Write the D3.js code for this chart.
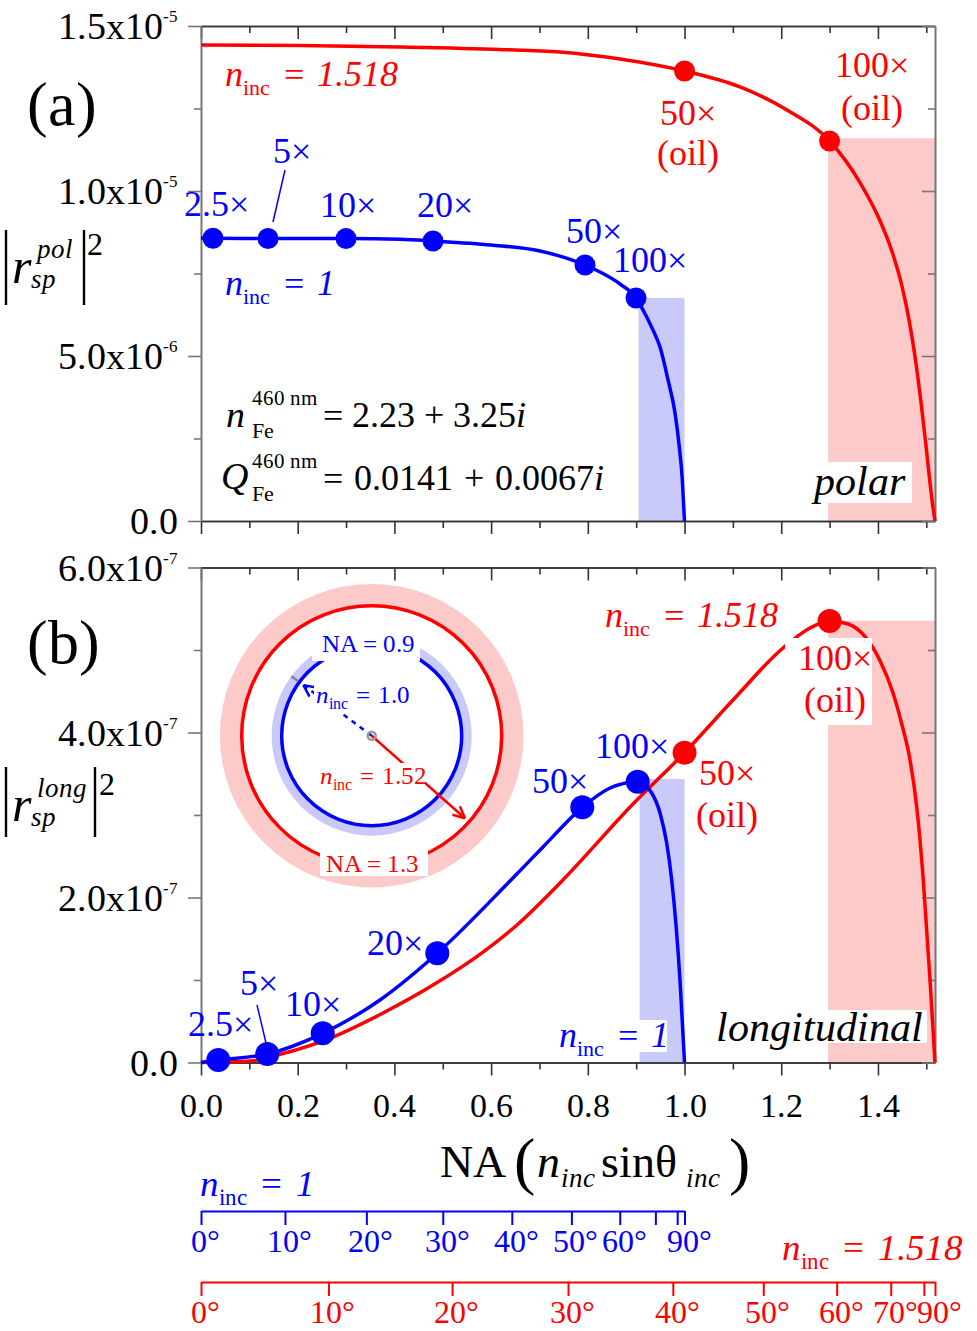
<!DOCTYPE html>
<html><head><meta charset="utf-8">
<script src="https://cdn.jsdelivr.net/npm/d3@7"></script>
<style>
@font-face{font-family:"TNR";font-style:normal;font-weight:400;
  src:local("Liberation Serif"),local("LiberationSerif"),local("Liberation Serif Regular"),local("LiberationSerif-Regular"),
      local("Tinos"),local("Times New Roman"),local("DejaVu Serif"),local("Noto Serif");}
@font-face{font-family:"TNR";font-style:italic;font-weight:400;
  src:local("Liberation Serif Italic"),local("LiberationSerif-Italic"),
      local("Tinos Italic"),local("Times New Roman Italic"),local("DejaVu Serif Italic"),local("Noto Serif Italic");}
body{margin:0;background:#fff}
svg{display:block}
svg text{font-family:"TNR","Liberation Serif","Tinos","Times New Roman",Times,"DejaVu Serif","Noto Serif",serif !important}
</style>
</head><body>
<svg id="c" width="977" height="1331"></svg>
<script>
// ---------------- DATA ----------------
// (a) polar, n_inc = 1.518 (oil)
const polRedNA  = [0,0.2047,0.4116,0.6184,0.7425,0.8665,1.0,1.1147,1.2119,1.3,1.3629,1.4043,1.4312,1.4498,1.4643,1.4767,1.4891,1.4994,1.5077,1.5149,1.518];
const polRedVal = [14.424,14.409,14.364,14.29,14.212,14.0,13.636,13.152,12.455,11.515,10.257,9.098,8.076,7.109,6.094,4.978,3.589,2.281,1.15,0.30,0].map(v=>v*1e-6);
// (a) polar, n_inc = 1 (air)
const polBlueNA  = [0,0.0248,0.1386,0.2047,0.2999,0.4116,0.4798,0.5998,0.7011,0.7942,0.8252,0.8665,0.8997,0.9142,0.9328,0.9493,0.9659,0.9803,0.9892,0.9954,0.9981,1.0];
const polBlueVal = [8.576,8.567,8.561,8.560,8.558,8.536,8.485,8.364,8.182,7.758,7.545,7.182,6.758,6.394,5.848,5.273,4.273,3.273,2.242,1.242,0.485,0].map(v=>v*1e-6);
// (b) longitudinal, n_inc = 1.518
const lonRedNA  = [0,0.1013,0.1696,0.273,0.3764,0.4798,0.5832,0.6535,0.7445,0.8934,1.0,1.1002,1.2036,1.2595,1.3,1.3386,1.3738,1.4043,1.4312,1.4498,1.4664,1.4809,1.4938,1.5077,1.518];
const lonRedVal = [0,0.018,0.109,0.309,0.6,0.939,1.339,1.667,2.188,3.133,3.755,4.394,5.024,5.267,5.352,5.315,5.158,4.87,4.479,4.091,3.667,3.061,2.212,1.0,0].map(v=>v*1e-7);
// (b) longitudinal, n_inc = 1
const lonBlueNA  = [0,0.0358,0.1371,0.2517,0.3702,0.4887,0.6411,0.7073,0.7886,0.8459,0.9031,0.9321,0.9493,0.9631,0.9735,0.9906,1.0];
const lonBlueVal = [0,0.030,0.103,0.354,0.758,1.324,2.212,2.612,3.093,3.327,3.404,3.267,3.024,2.661,2.212,1.0,0].map(v=>v*1e-7);

// objective markers (2.5x, 5x, 10x, 20x, 50x, 100x ; oil 50x, 100x)
const polBlueDotNA  = [0.0248,0.1386,0.2999,0.4798,0.7942,0.8997];
const polBlueDotVal = [8.567,8.561,8.558,8.485,7.758,6.758].map(v=>v*1e-6);
const polRedDotNA   = [1.0,1.3];
const polRedDotVal  = [13.636,11.515].map(v=>v*1e-6);
const lonBlueDotNA  = [0.0358,0.1371,0.2517,0.4887,0.7886,0.9031];
const lonBlueDotVal = [0.030,0.103,0.354,1.324,3.093,3.404].map(v=>v*1e-7);
const lonRedDotNA   = [1.0,1.3];
const lonRedDotVal  = [3.755,5.352].map(v=>v*1e-7);

// shaded NA ranges [NA0, NA1, top value, colour key]
const polShades = [[0.905,1.0,6.76e-6,'b'],[1.297,1.518,11.6e-6,'r']];
const lonShades = [[0.907,1.0,3.436e-7,'b'],[1.297,1.518,5.355e-7,'r']];

// ticks
const xMajor = [0,0.2,0.4,0.6,0.8,1.0,1.2,1.4];
const xMinor = [0.1,0.3,0.5,0.7,0.9,1.1,1.3,1.5];
const xLabels = ['0.0','0.2','0.4','0.6','0.8','1.0','1.2','1.4'];
const polYMajor = [0,5e-6,1e-5,1.5e-5];
const polYMinor = [2.5e-6,7.5e-6,1.25e-5];
const polYLabels = [['0.0',''],['5.0x10','-6'],['1.0x10','-5'],['1.5x10','-5']];
const lonYMajor = [0,2e-7,4e-7,6e-7];
const lonYMinor = [1e-7,3e-7,5e-7];
const lonYLabels = [['0.0',''],['2.0x10','-7'],['4.0x10','-7'],['6.0x10','-7']];

// angle scales
const angles = [0,10,20,30,40,50,60,70,80,90];
const airAngleLabels = ['0°','10°','20°','30°','40°','50°','60°','','','90°'];
const oilAngleLabels = ['0°','10°','20°','30°','40°','50°','60°','70°','','90°'];
const nAir = 1, nOil = 1.518;

// inset (NA circles)
const insetNA = [0.9, 1.3];

// ---------------- DRAW ----------------
const FONT = '"TNR","Liberation Serif","Tinos","Times New Roman",Times,"DejaVu Serif","Noto Serif",serif';
const RED='#ff0000', BLUE='#0000ff', PINK='#fdcaca', LBLUE='#c9c9fa';
const svg = d3.select('#c').attr('font-family',FONT);
const x = d3.scaleLinear().domain([0,1.518]).range([201,935]);
const yA = d3.scaleLinear().domain([0,1.5e-5]).range([521,26]);
const yB = d3.scaleLinear().domain([0,6e-7]).range([1062.5,567.5]);

function rich(g, px, py, parts, o={}) {
  const t = g.append('text').attr('x',px).attr('y',py).attr('font-family',FONT)
    .attr('font-size',o.size||36).attr('fill',o.color||'#000')
    .attr('text-anchor',o.anchor||'start').style('white-space','pre');
  let off=0;
  parts.forEach(p=>{
    if (typeof p==='string') p={t:p};
    const s=t.append('tspan').text(p.t);
    const d=(p.dy||0)-off; if(d) s.attr('dy',d); off=p.dy||0;
    if(p.dx) s.attr('dx',p.dx);
    if(p.it) s.attr('font-style','italic');
    if(p.fs) s.attr('font-size',p.fs);
  });
  return t;
}
function box(g,x0,y0,x1,y1){ g.append('rect').attr('x',x0).attr('y',y0).attr('width',x1-x0).attr('height',y1-y0).attr('fill','#fff'); }
function nInc(g,px,py,val,color,size,gap,upright){
  gap = gap==null?size*0.38:gap;
  return rich(g,px,py,[{t:'n',it:1},{t:'inc',fs:size*0.62,dy:size*0.24},{t:'=',dx:gap},{t:val,it:!upright,dx:gap}],{size,color});
}

function panel(y, yMajor, yMinor, yLabels, showX, shades, curves, dots, r) {
  const g = svg.append('g');
  shades.forEach(s=>{
    g.append('rect').attr('x',x(s[0])).attr('width',x(s[1])-x(s[0]))
     .attr('y',y(s[2])).attr('height',y(0)-y(s[2])).attr('fill',s[3]==='b'?LBLUE:PINK);
  });
  const y0=y.range()[0], y1=y.range()[1];
  const ax = (gen, tx, ty, vals, size, color) => {
    const a = g.append('g').attr('transform',`translate(${tx},${ty})`)
      .call(gen.tickValues(vals).tickSize(size).tickSizeOuter(0).tickFormat(''));
    a.selectAll('path,line').attr('stroke',color).attr('stroke-width',1.6);
    return a;
  };
  ax(d3.axisBottom(x),0,y0,xMinor,7,'#333');
  ax(d3.axisBottom(x),0,y0,xMajor,13,'#333');
  ax(d3.axisTop(x),0,y1,xMinor,-7,'#333');
  ax(d3.axisTop(x),0,y1,xMajor,-13,'#333');
  ax(d3.axisLeft(y),201,0,yMinor,7,'#777');
  ax(d3.axisLeft(y),201,0,yMajor,13,'#777');
  ax(d3.axisRight(y),935,0,yMinor,-7,'#777');
  ax(d3.axisRight(y),935,0,yMajor,-13,'#777');
  yMajor.forEach((v,i)=>{
    const parts=[{t:yLabels[i][0]}];
    if(yLabels[i][1]) parts.push({t:yLabels[i][1],fs:17,dy:-17});
    rich(g,178,y(v)+13,parts,{size:38,anchor:'end'});
  });
  if (showX) {
    const a = g.append('g').attr('transform',`translate(0,${y0})`)
      .call(d3.axisBottom(x).tickValues(xMajor).tickSize(0).tickPadding(30).tickFormat((d,i)=>xLabels[i]));
    a.attr('font-family',FONT);
    a.select('.domain').remove();
    a.selectAll('text').attr('font-size',34).attr('font-family',FONT).attr('fill','#000');
  }
  const line = d3.line().x(d=>x(d[0])).y(d=>y(d[1])).curve(d3.curveMonotoneX);
  curves.forEach(c=>{
    g.append('path').datum(d3.zip(c[0],c[1])).attr('d',line)
     .attr('fill','none').attr('stroke',c[2]).attr('stroke-width',3.5).attr('stroke-linejoin','round');
  });
  dots.forEach(c=>{
    g.selectAll(null).data(d3.zip(c[0],c[1])).join('circle')
     .attr('cx',d=>x(d[0])).attr('cy',d=>y(d[1])).attr('r',r).attr('fill',c[2]);
  });
  return g;
}

const gA = panel(yA, polYMajor, polYMinor, polYLabels, false, polShades,
  [[polRedNA,polRedVal,RED],[polBlueNA,polBlueVal,BLUE]],
  [[polRedDotNA,polRedDotVal,RED],[polBlueDotNA,polBlueDotVal,BLUE]], 10.5);
const gB = panel(yB, lonYMajor, lonYMinor, lonYLabels, true, lonShades,
  [[lonRedNA,lonRedVal,RED],[lonBlueNA,lonBlueVal,BLUE]],
  [[lonRedDotNA,lonRedDotVal,RED],[lonBlueDotNA,lonBlueDotVal,BLUE]], 12);

// ---- annotations (a)
const A = svg.append('g');
rich(A,27,125,['(a)'],{size:62});
nInc(A,225,86,'1.518',RED,36);
rich(A,688,125,['50×'],{size:36,color:RED,anchor:'middle'});
rich(A,688,165,['(oil)'],{size:36,color:RED,anchor:'middle'});
rich(A,872,77,['100×'],{size:36,color:RED,anchor:'middle'});
rich(A,872,120,['(oil)'],{size:36,color:RED,anchor:'middle'});
rich(A,184,216,['2.5×'],{size:36,color:BLUE});
rich(A,273,163,['5×'],{size:36,color:BLUE});
A.append('line').attr('x1',285).attr('y1',170).attr('x2',273).attr('y2',222).attr('stroke',BLUE).attr('stroke-width',1.5);
rich(A,320,217,['10×'],{size:36,color:BLUE});
rich(A,417,217,['20×'],{size:36,color:BLUE});
rich(A,566,243,['50×'],{size:36,color:BLUE});
rich(A,613,272,['100×'],{size:36,color:BLUE});
nInc(A,225,295,'1',BLUE,36);
rich(A,226,427,[{t:'n',it:1}],{size:38});
rich(A,252,405,['460 nm'],{size:21});
rich(A,252,438,['Fe'],{size:22});
rich(A,323,427,['=',{t:'2.23',dx:9},{t:'+',dx:9},{t:'3.25',dx:9},{t:'i',it:1}],{size:36});
rich(A,221,489,[{t:'Q',it:1}],{size:38});
rich(A,252,468,['460 nm'],{size:21});
rich(A,252,501,['Fe'],{size:22});
rich(A,323,490,['=',{t:'0.0141',dx:11},{t:'+',dx:11},{t:'0.0067',dx:11},{t:'i',it:1}],{size:36});
box(A,812,462,912,503);
rich(A,814,495,[{t:'polar',it:1}],{size:42});
function ylab(g, y0, y1, xr, rB, supT, supB, twoX, twoB){
  g.append('line').attr('x1',6).attr('x2',6).attr('y1',y0).attr('y2',y1).attr('stroke','#000').attr('stroke-width',2.4);
  g.append('line').attr('x1',xr).attr('x2',xr).attr('y1',y0).attr('y2',y1).attr('stroke','#000').attr('stroke-width',2.4);
  rich(g,12,rB,[{t:'r',it:1}],{size:50});
  rich(g,31,rB+5,[{t:'sp',it:1}],{size:27});
  rich(g,37,supB,[{t:supT,it:1}],{size:27});
  rich(g,twoX,twoB,['2'],{size:32});
}
ylab(A,230,305,84,283,'pol',258,87,255);

// ---- annotations (b)
const B = svg.append('g');
rich(B,27,663,['(b)'],{size:62});
nInc(B,605,627,'1.518',RED,36);
box(B,785,638,872,725);
rich(B,835,670,['100×'],{size:36,color:RED,anchor:'middle'});
rich(B,835,712,['(oil)'],{size:36,color:RED,anchor:'middle'});
rich(B,727,785,['50×'],{size:36,color:RED,anchor:'middle'});
rich(B,727,827,['(oil)'],{size:36,color:RED,anchor:'middle'});
rich(B,595,758,['100×'],{size:36,color:BLUE});
rich(B,532,793,['50×'],{size:36,color:BLUE});
rich(B,367,955,['20×'],{size:36,color:BLUE});
rich(B,285,1016,['10×'],{size:36,color:BLUE});
rich(B,240,995,['5×'],{size:36,color:BLUE});
B.append('line').attr('x1',257).attr('y1',1005).attr('x2',266).attr('y2',1043).attr('stroke',BLUE).attr('stroke-width',1.5);
rich(B,188,1036,['2.5×'],{size:36,color:BLUE});
box(B,555,1020,667,1052);
nInc(B,559,1047,'1',BLUE,36);
box(B,714,1010,927,1043);
rich(B,716,1041,[{t:'longitudinal',it:1}],{size:42});
ylab(B,767,837,95,821,'long',797,99,795);

// ---- inset
const cx=371.7, cy=735.7;
const rs = d3.scaleLinear().domain([0,1]).range([0,100]);
const I = svg.append('g').attr('transform',`translate(${cx},${cy})`);
const arc = d3.arc().startAngle(0).endAngle(2*Math.PI);
I.append('path').attr('d',arc.innerRadius(rs(insetNA[1])).outerRadius(rs(nOil))()).attr('fill',PINK);
I.append('path').attr('d',arc.innerRadius(rs(insetNA[0])).outerRadius(rs(nAir))()).attr('fill',LBLUE);
I.append('circle').attr('r',rs(insetNA[1])).attr('fill','none').attr('stroke',RED).attr('stroke-width',3.5);
I.append('circle').attr('r',rs(insetNA[0])).attr('fill','none').attr('stroke',BLUE).attr('stroke-width',3.5);
const ub=[-0.803,-0.595], ur=[0.749,0.663];
I.append('line').attr('x1',rs(0.92)*ub[0]).attr('y1',rs(0.92)*ub[1]).attr('x2',rs(1.0)*ub[0]).attr('y2',rs(1.0)*ub[1]).attr('stroke','#888').attr('stroke-width',2.5);
I.append('line').attr('x1',0).attr('y1',0).attr('x2',rs(0.85)*ub[0]).attr('y2',rs(0.85)*ub[1])
  .attr('stroke',BLUE).attr('stroke-width',2.5).attr('stroke-dasharray','5,5');
function head(g,len,u,color){
  const tx=len*u[0], ty=len*u[1], a=Math.atan2(u[1],u[0]);
  [0.45,-0.45].forEach(da=>{
    g.append('line').attr('x1',tx).attr('y1',ty)
     .attr('x2',tx-13*Math.cos(a+da)).attr('y2',ty-13*Math.sin(a+da))
     .attr('stroke',color).attr('stroke-width',2.5);
  });
}
head(I,rs(0.85),ub,BLUE);
I.append('line').attr('x1',0).attr('y1',0).attr('x2',rs(1.245)*ur[0]).attr('y2',rs(1.245)*ur[1]).attr('stroke',RED).attr('stroke-width',2.5);
head(I,rs(1.245),ur,RED);
I.append('circle').attr('r',4).attr('fill','none').attr('stroke','#999').attr('stroke-width',2.5);
box(svg,312,628,420,661);
rich(svg,368,652,['NA = 0.9'],{size:25,color:BLUE,anchor:'middle'});
box(svg,314,684,410,714);
nInc(svg,316,703,'1.0',BLUE,25,8,true);
box(svg,317,763,425,796);
nInc(svg,320,784,'1.52',RED,25,8,true);
box(svg,320,851,428,876);
rich(svg,372,872,['NA = 1.3'],{size:25,color:RED,anchor:'middle'});

// ---- x title
const T = svg.append('g');
rich(T,440,1177,['NA'],{size:46});
rich(T,514,1182,['('],{size:64});
rich(T,537,1177,[{t:'n',it:1}],{size:46});
rich(T,561,1187,[{t:'inc',it:1}],{size:27});
rich(T,601,1177,['sinθ'],{size:46});
rich(T,686,1187,[{t:'inc',it:1}],{size:27});
rich(T,729,1182,[')'],{size:64});

// ---- angle axes
function angleAxis(n, yy, labels, color){
  const xs = d3.scaleLinear().domain([0,n]).range([x(0),x(n)]);
  const a = svg.append('g').attr('transform',`translate(0,${yy})`)
    .call(d3.axisBottom(xs).tickValues(angles.map(t=>n*Math.sin(t*Math.PI/180)))
      .tickSize(14).tickSizeOuter(0).tickPadding(4).tickFormat((d,i)=>labels[i]));
  a.attr('font-family',FONT);
  a.selectAll('path,line').attr('stroke',color).attr('stroke-width',2);
  a.selectAll('text').attr('font-size',32).attr('fill',color).attr('dx',4)
   .attr('font-family',FONT).attr('dy','0.72em');
}
nInc(svg,200,1196,'1',BLUE,37);
angleAxis(nAir,1211,airAngleLabels,BLUE);
nInc(svg,782,1260,'1.518',RED,37);
angleAxis(nOil,1282,oilAngleLabels,RED);
</script>
</body></html>
